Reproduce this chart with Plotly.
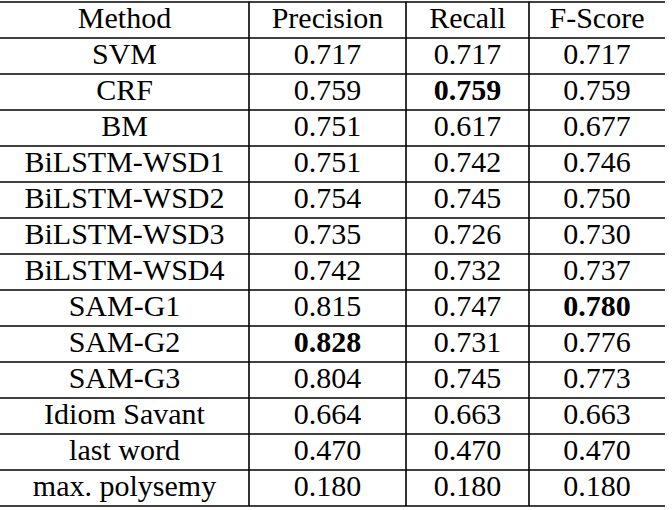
#!/usr/bin/env python3
"""
Results table: precision / recall / F-score per method
"""

import plotly.graph_objs as go

header = ["Method", "Precision", "Recall", "F-Score"]
methods = ["SVM", "CRF", "BM", "BiLSTM-WSD1", "BiLSTM-WSD2", "BiLSTM-WSD3",
           "BiLSTM-WSD4", "SAM-G1", "SAM-G2", "SAM-G3", "Idiom Savant",
           "last word", "max. polysemy"]
precision = [0.717, 0.759, 0.751, 0.751, 0.754, 0.735, 0.742, 0.815, 0.828,
             0.804, 0.664, 0.470, 0.180]
recall = [0.717, 0.759, 0.617, 0.742, 0.745, 0.726, 0.732, 0.747, 0.731,
          0.745, 0.663, 0.470, 0.180]
fscore = [0.717, 0.759, 0.677, 0.746, 0.750, 0.730, 0.737, 0.780, 0.776,
          0.773, 0.663, 0.470, 0.180]

# column widths in pixels
col_widths = [249, 157, 123, 136]


def fmt(vals):
    best = max(vals)
    return [f"<b>{v:.3f}</b>" if v == best else f"{v:.3f}" for v in vals]


def main():

    columns = [methods, fmt(precision), fmt(recall), fmt(fscore)]
    n_rows = len(methods) + 1

    edges = [0]
    for w in col_widths:
        edges.append(edges[-1] + w)
    centers = [(a + b) / 2 for a, b in zip(edges[:-1], edges[1:])]

    fig = go.Figure()
    font = dict(family="Liberation Serif", size=30, color="black")

    for ci, col in enumerate(columns):
        texts = [header[ci]] + list(col)
        fig.add_trace(go.Scatter(x=[centers[ci]] * n_rows,
                                 y=list(range(n_rows)),
                                 mode="text", text=texts,
                                 textposition="middle center",
                                 textfont=font, hoverinfo="skip",
                                 showlegend=False))

    # horizontal rules
    for r in range(n_rows + 1):
        fig.add_shape(type="line", xref="x", yref="y",
                      x0=edges[0], x1=edges[-1], y0=r - 0.5, y1=r - 0.5,
                      line=dict(color="black", width=1.6))
    # vertical rules between columns
    for e in edges[1:-1]:
        fig.add_shape(type="line", xref="x", yref="y",
                      x0=e, x1=e, y0=-0.5, y1=n_rows - 0.5,
                      line=dict(color="black", width=1.6))

    fig.update_layout(
        width=672, height=510,
        margin=dict(l=0, r=0, t=0, b=0),
        paper_bgcolor="white", plot_bgcolor="white",
        xaxis=dict(range=[0, 672], visible=False, fixedrange=True),
        yaxis=dict(range=[n_rows - 0.5 + 4 / 36, -0.5 - 2 / 36],
                   visible=False, fixedrange=True),
    )
    fig.write_html("out.html", config={"displayModeBar": False},
                   post_script="document.body.style.margin='0';")


if __name__ == "__main__":

    main()
